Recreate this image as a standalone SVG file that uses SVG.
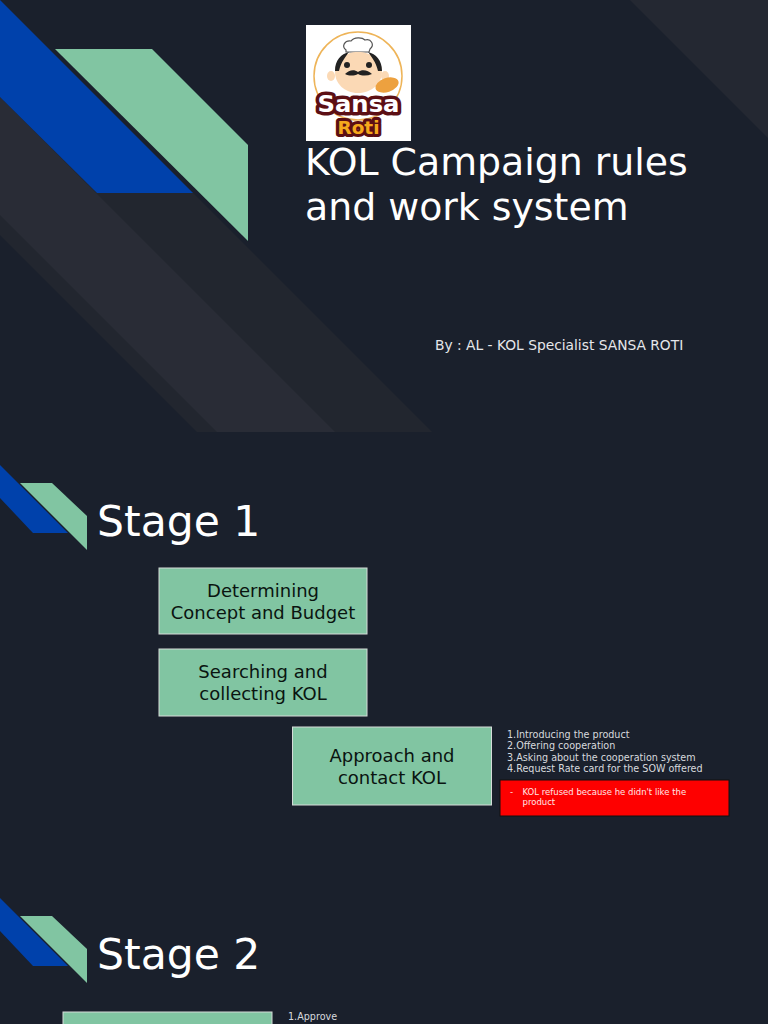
<svg xmlns="http://www.w3.org/2000/svg" width="768" height="1024" viewBox="0 0 768 1024">
<style>
text{font-family:"DejaVu Sans","Liberation Sans",sans-serif}
.blue{fill:#0041ab}.green{fill:#81c5a2}
.box{fill:#81c5a2;stroke:#d5dbd8;stroke-width:1}
.lbl{font-size:18px;fill:#0a1410;text-anchor:middle}
.h{font-size:42.500px;fill:#fff}
.t{font-size:37.850px;fill:#fff}
.li{font-size:9.600px;fill:#d8dade}
.rd{font-size:8.500px;fill:#ffe6e6}
.logo{font-weight:700;text-anchor:middle;paint-order:stroke;stroke:#5c0f14;stroke-linejoin:round}
</style>
<rect width="768" height="1024" fill="#1a202c"/>
<g id="decor">
<polygon points="630,0 768,0 768,138" fill="#242832"/>
<polygon points="0,97 97,193 193,193 432,432 197,432 0,235" fill="#22262f"/>
<polygon points="0,97 335,432 217,432 0,215" fill="#292c36"/>
<polygon class="blue" points="0,0 193,193 97,193 0,97"/>
<polygon class="green" points="55,49 152,49 248,145 248,241"/>
<polygon class="blue" points="0,465 68,533 33,533 0,498"/>
<polygon class="green" points="20,483 52,483 87,516 87,550"/>
<polygon class="blue" points="0,898 68,966 33,966 0,931"/>
<polygon class="green" points="20,916 52,916 87,949 87,983"/>
</g>
<g id="logo">
<rect x="306" y="25" width="105" height="116" fill="#fff"/>
<circle cx="358" cy="76" r="44" fill="#fff" stroke="#eeb458" stroke-width="1.500"/>
<path d="M346 50c-5-4-1-10 5-9 3-4 11-4 14-1 6-2 10 5 5 9l-1 3h-23z" fill="#fff" stroke="#555" stroke-width="1.200"/>
<ellipse cx="331" cy="76" rx="4" ry="5" fill="#fbd9b5"/>
<ellipse cx="385" cy="76" rx="4" ry="5" fill="#fbd9b5"/>
<path d="M335 72c0-12 10-20 23-20s24 8 24 20c0 11-10 21-24 21s-23-10-23-21z" fill="#fbd9b5"/>
<path d="M335 71c0-11 6-17 14-19-3 4-8 10-10 19zM382 71c0-11-6-17-14-19 3 4 8 10 10 19z" fill="#222"/>
<circle cx="347" cy="65" r="3" fill="#222"/><circle cx="369" cy="65" r="3" fill="#222"/>
<path d="M345 74c4-4 9-5 13-2 4-3 10-2 14 2-5 2-10 2-14 0-4 2-9 2-13 0z" fill="#222"/>
<ellipse cx="387" cy="85" rx="12" ry="7" fill="#eda13f" transform="rotate(-18 387 85)"/>
<text class="logo" x="358.500" y="112" font-size="23" stroke-width="7" fill="#fff" textLength="82" lengthAdjust="spacingAndGlyphs">Sansa</text>
<text class="logo" x="358.500" y="134" font-size="17" stroke-width="6" fill="#f5a81c" textLength="42" lengthAdjust="spacingAndGlyphs">Roti</text>
</g>
<g id="title">
<text class="t" x="305" y="175">KOL Campaign rules</text>
<text class="t" x="305" y="220">and work system</text>
<text x="435" y="350" font-size="13.800" fill="#e6e7ea">By : AL - KOL Specialist SANSA ROTI</text>
</g>
<g id="stage1">
<text class="h" x="97" y="536">Stage 1</text>
</g>
<g id="node-concept">
<rect class="box" x="159" y="568" width="208" height="66"/>
<text class="lbl" x="263" y="597">Determining</text>
<text class="lbl" x="263" y="619">Concept and Budget</text>
</g>
<g id="node-search">
<rect class="box" x="159" y="649" width="208" height="67"/>
<text class="lbl" x="263" y="678">Searching and</text>
<text class="lbl" x="263" y="700">collecting KOL</text>
</g>
<g id="node-approach">
<rect class="box" x="292.500" y="727" width="199" height="78"/>
<text class="lbl" x="392" y="762">Approach and</text>
<text class="lbl" x="392" y="784">contact KOL</text>
</g>
<g id="approach-list">
<text class="li" x="507" y="738">1.Introducing the product</text>
<text class="li" x="507" y="749">2.Offering cooperation</text>
<text class="li" x="507" y="761">3.Asking about the cooperation system</text>
<text class="li" x="507" y="772">4.Request Rate card for the SOW offered</text>
</g>
<g id="node-refused">
<rect x="500" y="780" width="229" height="36" fill="#fe0000" stroke="#111" stroke-width="1"/>
<text class="rd" x="510" y="795">-</text>
<text class="rd" x="522.500" y="795">KOL refused because he didn't like the</text>
<text class="rd" x="522.500" y="805">product</text>
</g>
<g id="stage2">
<text class="h" x="97" y="969">Stage 2</text>
</g>
<g id="node-stage2">
<rect class="box" x="63" y="1012" width="209" height="40"/>
</g>
<g id="stage2-list">
<text class="li" x="288" y="1020">1.Approve</text>
</g>
<g id="connectors"></g>
</svg>
